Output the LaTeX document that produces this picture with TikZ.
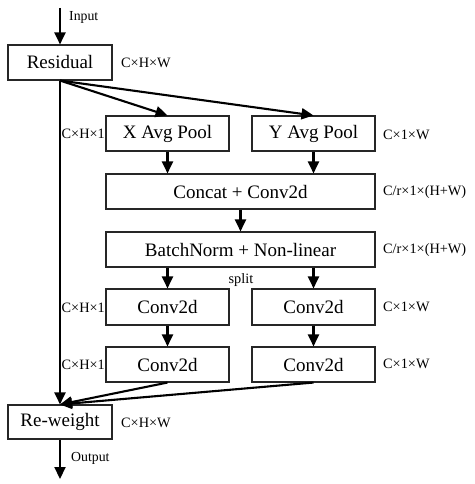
\documentclass[tikz,border=0pt]{standalone}
\usepackage{fontspec}
\setmainfont{Liberation Serif}
\usepackage{tikz}
\usetikzlibrary{arrows.meta,positioning}

\tikzset{
    block/.style={draw=black!85, line width=1.1pt, inner sep=0pt, minimum height=35pt, font=\fontsize{19}{22}\selectfont},
    dimlabel/.style={font=\fontsize{14.3}{16}\selectfont, inner sep=0pt},
    flow/.style={line width=2.1pt, -{Triangle[length=12pt,width=11pt]}}
}

\begin{document}
\begin{tikzpicture}[x=1pt,y=-1pt]
                \useasboundingbox (0,0) rectangle (474,484);

                % Define the input and the residual block
                \coordinate (in) at (60,8);
                \node[block, minimum width=104pt] (res) at (60,62.5) {Residual};
                \node[dimlabel, anchor=west] (resdim) at (121,63) {C×H×W};
                \node[dimlabel, anchor=west] (inlabel) at (69,17) {\fontsize{13.8}{15}\selectfont Input};

                % Define the two pooling blocks
                \node[block, minimum width=123pt] (xpool) at (167.5,133.5) {X Avg Pool};
                \node[block, minimum width=123pt] (ypool) at (313.5,133.5) {Y Avg Pool};
                \node[dimlabel, anchor=east] (xpooldim) at (105,134) {C×H×1};
                \node[dimlabel, anchor=west] (ypooldim) at (383,135) {C×1×W};

                % Define the shared blocks
                \node[block, minimum width=269pt] (concat) at (240.5,191.5) {Concat + Conv2d};
                \node[block, minimum width=269pt] (bn) at (240.5,249.5) {BatchNorm + Non-linear};
                \node[dimlabel, anchor=west] (concatdim) at (383,192) {C/r×1×(H+W)};
                \node[dimlabel, anchor=west] (bndim) at (383,250) {C/r×1×(H+W)};
                \node[dimlabel] (split) at (241,280) {split};

                % Define the two conv branches
                \node[block, minimum width=123pt, minimum height=36pt] (xconva) at (167.5,307) {Conv2d};
                \node[block, minimum width=123pt, minimum height=36pt] (yconva) at (313.5,307) {Conv2d};
                \node[block, minimum width=123pt] (xconvb) at (167.5,364.5) {Conv2d};
                \node[block, minimum width=123pt] (yconvb) at (313.5,364.5) {Conv2d};
                \node[dimlabel, anchor=east] (xconvadim) at (105,308) {C×H×1};
                \node[dimlabel, anchor=east] (xconvbdim) at (105,365) {C×H×1};
                \node[dimlabel, anchor=west] (yconvadim) at (383,307) {C×1×W};
                \node[dimlabel, anchor=west] (yconvbdim) at (383,364) {C×1×W};

                % Define the re-weight block and the output
                \node[block, minimum width=104pt, minimum height=34pt] (rew) at (60,422) {Re-weight};
                \node[dimlabel, anchor=west] (rewdim) at (121,423) {C×H×W};
                \coordinate (out) at (60,479);
                \node[dimlabel, anchor=west] (outlabel) at (71,458) {\fontsize{13.8}{15}\selectfont Output};

                % Add the connectors
                \draw[flow] (in) -- (res.north);
                \draw[flow] (res.south) -- (xpool.north);
                \draw[flow] (res.south) -- (ypool.north);
                \draw[flow] (res.south) -- (rew.north);
                \draw[flow] (xpool.south) -- (xpool.south |- concat.north);
                \draw[flow] (ypool.south) -- (ypool.south |- concat.north);
                \draw[flow] (concat.south) -- (bn.north);
                \draw[flow] (bn.south -| xconva.north) -- (xconva.north);
                \draw[flow] (bn.south -| yconva.north) -- (yconva.north);
                \draw[flow] (xconva.south) -- (xconvb.north);
                \draw[flow] (yconva.south) -- (yconvb.north);
                \draw[flow] (xconvb.south) -- (rew.north);
                \draw[flow] (yconvb.south) -- (rew.north);
                \draw[flow] (rew.south) -- (out);

            \end{tikzpicture}
\end{document}
